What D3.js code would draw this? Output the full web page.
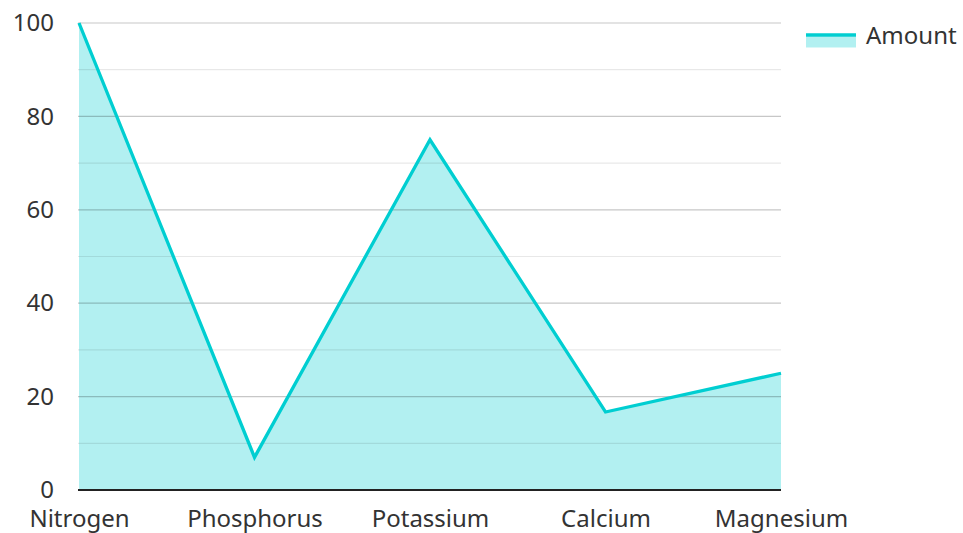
<!DOCTYPE html>
<html>
<head>
<meta charset="utf-8">
<script src="https://cdn.jsdelivr.net/npm/d3@7"></script>
<style>
  html, body { margin: 0; padding: 0; background: #fff; }
  svg { display: block; font-family: "Noto Sans", "Open Sans", sans-serif; }
</style>
</head>
<body>
<svg id="chart" width="963" height="533"></svg>
<script>
// Nutrient amounts
const categories = ["Nitrogen", "Phosphorus", "Potassium", "Calcium", "Magnesium"];
const amounts = [100, 7, 75, 16.7, 25];
const yTicks = [0, 20, 40, 60, 80, 100];
const yMinorTicks = [10, 30, 50, 70, 90];
const seriesName = "Amount";

const color = "#00CED1";
const fontFamily = "Noto Sans";
const fontSize = 24;
const svg = d3.select("#chart");
const margin = { left: 79, right: 182, top: 23, bottom: 43 };
const W = 963, H = 533;

const x = d3.scalePoint().domain(categories).range([margin.left, W - margin.right]).padding(0);
const y = d3.scaleLinear().domain([0, 100]).range([H - margin.bottom, margin.top]);

const data = categories.map((c, i) => ({ c, v: amounts[i] }));

// area fill
svg.append("path")
  .datum(data)
  .attr("fill", color)
  .attr("fill-opacity", 0.3)
  .attr("d", d3.area().x(d => x(d.c)).y0(y(0)).y1(d => y(d.v)));

// gridlines
const grid = svg.append("g");
grid.selectAll("line.minor").data(yMinorTicks).join("line")
  .attr("class", "minor")
  .attr("x1", x.range()[0] - 1).attr("x2", x.range()[1])
  .attr("y1", d => y(d)).attr("y2", d => y(d))
  .attr("stroke", "#000").attr("stroke-opacity", 0.09).attr("stroke-width", 1.2);
grid.selectAll("line.major").data(yTicks.filter(d => d > 0)).join("line")
  .attr("class", "major")
  .attr("x1", x.range()[0] - 1).attr("x2", x.range()[1])
  .attr("y1", d => y(d)).attr("y2", d => y(d))
  .attr("stroke", "#000").attr("stroke-opacity", 0.22).attr("stroke-width", 1.2);

// line
svg.append("path")
  .datum(data)
  .attr("fill", "none")
  .attr("stroke", color)
  .attr("stroke-width", 3.3)
  .attr("stroke-linejoin", "miter")
  .attr("d", d3.line().x(d => x(d.c)).y(d => y(d.v)));

// y axis labels
const yAxis = d3.axisLeft(y).tickValues(yTicks).tickSize(0).tickPadding(25);
const gy = svg.append("g").attr("transform", `translate(${margin.left},0)`).call(yAxis);
gy.select(".domain").remove();
gy.attr("font-size", fontSize).attr("font-family", fontFamily);
gy.selectAll("text").attr("fill", "#333");

// x axis
const xAxis = d3.axisBottom(x).tickSize(0).tickPadding(20);
const gx = svg.append("g").attr("transform", `translate(0,${y(0)})`).call(xAxis);
gx.attr("font-size", fontSize).attr("font-family", fontFamily);
gx.select(".domain").attr("stroke", "#222").attr("stroke-width", 2)
  .attr("d", `M${x.range()[0] - 1},0H${x.range()[1]}`);
gx.selectAll("text").attr("fill", "#333");

// legend
const lg = svg.append("g").attr("transform", "translate(806,35)");
lg.append("rect").attr("x", 0).attr("y", 1.5).attr("width", 50).attr("height", 11)
  .attr("fill", color).attr("fill-opacity", 0.3);
lg.append("line").attr("x1", 0).attr("x2", 50).attr("y1", 0).attr("y2", 0)
  .attr("stroke", color).attr("stroke-width", 3.4);
lg.append("text").attr("x", 60).attr("y", 9).text(seriesName)
  .attr("font-size", fontSize).attr("fill", "#333").attr("font-family", fontFamily);
</script>
</body>
</html>
